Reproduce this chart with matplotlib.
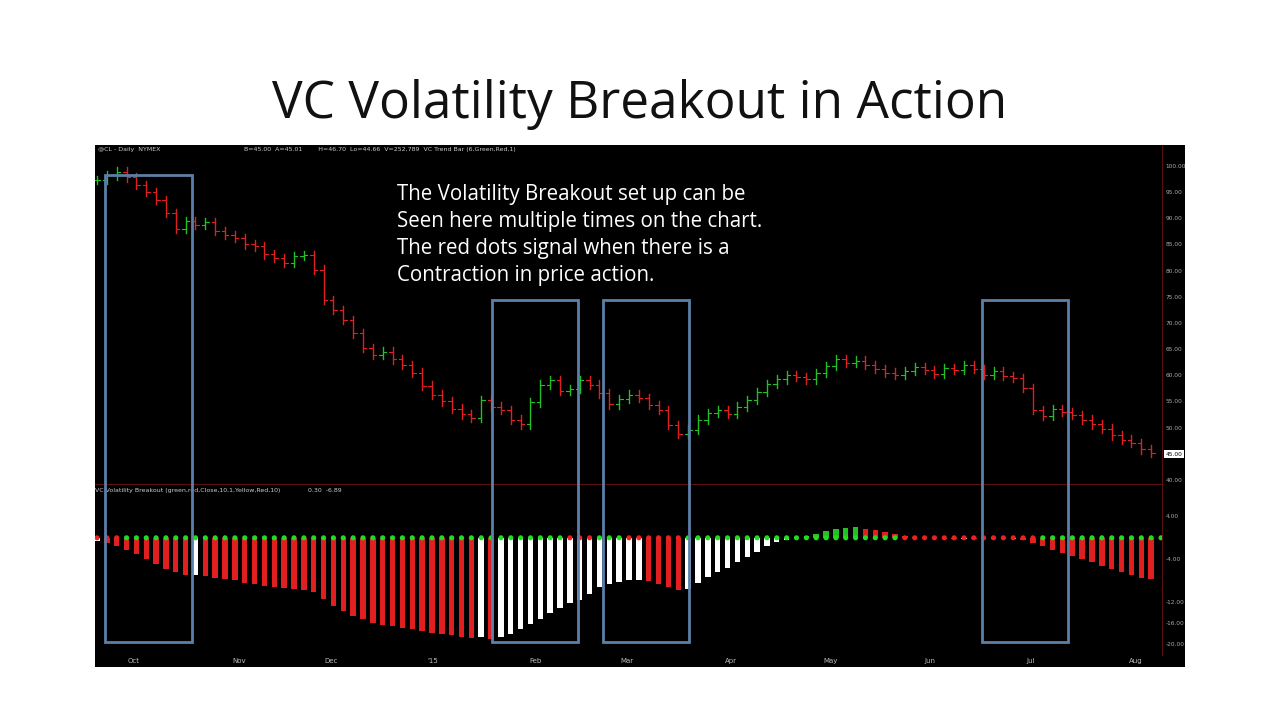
import matplotlib
matplotlib.use("Agg")
import matplotlib.pyplot as plt
from matplotlib.patches import Rectangle

# 2-day bars of crude oil
closes = [
    97.3, 98.2, 98.9, 97.8, 96.4, 95.0, 93.5, 91.0, 88.0, 89.5,
    88.7, 89.2, 87.6, 86.8, 86.2, 85.0, 84.6, 83.1, 82.4, 81.5,
    82.8, 83.0, 80.2, 74.4, 72.5, 70.6, 68.0, 65.2, 63.9, 64.5,
    63.0, 62.0, 60.5, 58.0, 56.3, 55.0, 53.6, 52.5, 51.8, 55.3,
    54.0, 53.4, 51.5, 50.6, 54.8, 58.2, 59.0, 57.0, 57.3, 59.0,
    58.2, 56.5, 54.4, 55.5, 56.3, 55.6, 54.3, 53.4, 50.5, 48.7,
    49.6, 51.5, 52.8, 53.4, 52.6, 54.0, 55.3, 56.8, 58.3, 59.2,
    60.0, 59.6, 59.2, 60.4, 61.8, 63.0, 62.4, 62.8, 62.0, 61.2,
    60.5, 60.1, 60.8, 61.5, 61.0, 60.2, 61.3, 61.0, 62.0, 61.2,
    60.1, 60.8, 59.9, 59.5, 57.5, 53.4, 52.2, 53.5, 53.0, 52.4,
    51.5, 50.6, 49.8, 48.5, 47.7, 47.0, 45.8, 45.2,
]
vc_hist = [
    -0.6, -1.0, -1.6, -2.2, -3.0, -4.0, -5.0, -5.8, -6.5, -7.0,
    -7.0, -7.2, -7.5, -7.8, -8.0, -8.4, -8.6, -9.0, -9.3, -9.5,
    -9.6, -9.8, -10.2, -11.5, -12.8, -13.8, -14.6, -15.3, -15.9, -16.3,
    -16.6, -16.9, -17.2, -17.5, -17.8, -18.1, -18.3, -18.6, -18.8, -18.7,
    -19.0, -18.6, -18.0, -17.2, -16.2, -15.2, -14.2, -13.2, -12.3, -11.6,
    -10.6, -9.2, -8.6, -8.3, -8.0, -7.9, -8.1, -8.6, -9.3, -9.8,
    -9.6, -8.4, -7.4, -6.4, -5.6, -4.6, -3.6, -2.6, -1.6, -0.8,
    -0.4, 0.0, 0.4, 0.8, 1.2, 1.6, 1.9, 2.0, 1.7, 1.4,
    1.0, 0.7, 0.4, 0.2, 0.1, -0.1, -0.2, -0.3, -0.2, -0.3,
    -0.3, -0.2, -0.3, -0.3, -0.4, -0.9, -1.6, -2.2, -2.8, -3.4,
    -4.0, -4.6, -5.2, -5.8, -6.4, -7.0, -7.5, -7.8,
]
# squeeze dots on the zero line: g = no contraction, r = contraction
dots = ("rrrgggggggggggggggggggggggggggggggggggggggggggggrrrgggrrrrrrgggg"
        "ggggggggggggggggggrrrrrrrrrrrrrrggggggggggggggg")
month_labels = ["Oct", "Nov", "Dec", "'15", "Feb", "Mar", "Apr", "May", "Jun", "Jul", "Aug"]
month_pos = [3.7, 14.4, 23.8, 34.1, 44.5, 53.8, 64.3, 74.5, 84.5, 94.8, 105.4]
# highlighted setups: (start bar, end bar, top price)
boxes = [(0.8, 9.6, 98.3), (40.1, 48.8, 74.4), (51.4, 60.1, 74.4), (89.8, 98.6, 74.4)]
bar_range = 1.6

W, H = 1280, 720
fig = plt.figure(figsize=(12.8, 7.2), dpi=100, facecolor="white")
fig.text(0.5, 1 - 104 / H, "VC Volatility Breakout in Action", ha="center", va="center",
         fontsize=37, family="Open Sans", color="#111111")

def fax(x0, y0, x1, y1):
    return fig.add_axes([x0 / W, 1 - y1 / H, (x1 - x0) / W, (y1 - y0) / H])

bg = fax(95, 145, 1185, 667)
bg.set_facecolor("black")
bg.set_xticks([]); bg.set_yticks([])
for s in bg.spines.values():
    s.set_visible(False)

ax = fax(95, 145, 1162, 484)
ax2 = fax(95, 484, 1162, 655)
xlim = (-0.2, 108.1)
for a in (ax, ax2):
    a.set_facecolor("none")
    a.set_xlim(*xlim)
    a.set_xticks([])
    a.yaxis.tick_right()
    a.tick_params(axis="y", colors="#aaaaaa", labelsize=4.2, length=0, pad=2.5)
    for s in a.spines.values():
        s.set_visible(False)
ax.spines["right"].set_visible(True); ax.spines["right"].set_color("#5a1010")
ax2.spines["right"].set_visible(True); ax2.spines["right"].set_color("#5a1010")
ax2.spines["top"].set_visible(True); ax2.spines["top"].set_color("#5a1010")

# price bars
ax.set_ylim(39.2, 104.0)
ax.set_yticks(range(40, 101, 5))
ax.set_yticklabels([f"{v:.2f}" for v in range(40, 101, 5)])
prev = closes[0]
for i, c in enumerate(closes):
    col = "#22c022" if c >= prev else "#e02020"
    hi = max(c, prev) + bar_range / 2
    lo = min(c, prev) - bar_range / 2
    ax.plot([i, i], [lo, hi], color=col, lw=1)
    ax.plot([i - 0.35, i], [prev, prev], color=col, lw=0.8)
    ax.plot([i, i + 0.35], [c, c], color=col, lw=0.8)
    prev = c
for lbl in ax.get_yticklabels():
    if lbl.get_text() == "45.00":
        lbl.set_bbox(dict(fc="white", ec="none", pad=1))
        lbl.set_color("black")

# indicator histogram
ax2.set_ylim(-22, 10.1)
ax2.set_yticks([4, -4, -12, -16, -20])
ax2.set_yticklabels(["4.00", "-4.00", "-12.00", "-16.00", "-20.00"])
prev = vc_hist[0]
for i, v in enumerate(vc_hist):
    col = "white" if v >= prev else "#e02020"
    if v > 0 and v >= prev:
        col = "#22c022"
    ax2.bar(i, v, width=0.55, color=col)
    prev = v
dot_x = [i for i in range(len(dots))]
ax2.scatter(dot_x, [0] * len(dots), s=7,
            c=["#22dd22" if d == "g" else "#ee2020" for d in dots], zorder=3)

# blue boxes across both panels
fig.canvas.draw()
inv = fig.transFigure.inverted()
for x0, x1, top in boxes:
    p0 = inv.transform(ax.transData.transform((x0, top)))
    p1 = inv.transform(ax2.transData.transform((x1, -19.5)))
    fig.patches.append(Rectangle((p0[0], p1[1]), p1[0] - p0[0], p0[1] - p1[1],
                                 transform=fig.transFigure, fill=False,
                                 ec="#5b7fa8", lw=2, zorder=5))

for lbl, pos in zip(month_labels, month_pos):
    ax2.text(pos, -23.2, lbl, fontsize=5, color="#bbbbbb", ha="center", va="center")

ax.text(0.003, 0.995, "@CL - Daily  NYMEX", transform=ax.transAxes, fontsize=4.5,
        color="#cccccc", va="top")
ax.text(0.14, 0.995, "B=45.00  A=45.01        H=46.70  Lo=44.66  V=252,789  VC Trend Bar (6,Green,Red,1)",
        transform=ax.transAxes, fontsize=4.5, color="#cccccc", va="top")
ax2.text(0.0, 1.0 - 4 / 171, "VC Volatility Breakout (green,red,Close,10,1,Yellow,Red,10)",
         transform=ax2.transAxes, fontsize=4.5, color="#cccccc", va="top")
ax2.text(0.2, 1.0 - 4 / 171, "0.30  -6.89", transform=ax2.transAxes, fontsize=4.5,
         color="#cccccc", va="top")

note = ("The Volatility Breakout set up can be\nSeen here multiple times on the chart.\n"
        "The red dots signal when there is a\nContraction in price action.")
fig.text(397 / W, 1 - 184 / H, note, fontsize=14.8, family="Open Sans", color="white",
         va="top", linespacing=1.38)

fig.savefig("out.png", dpi=100, facecolor="white")
